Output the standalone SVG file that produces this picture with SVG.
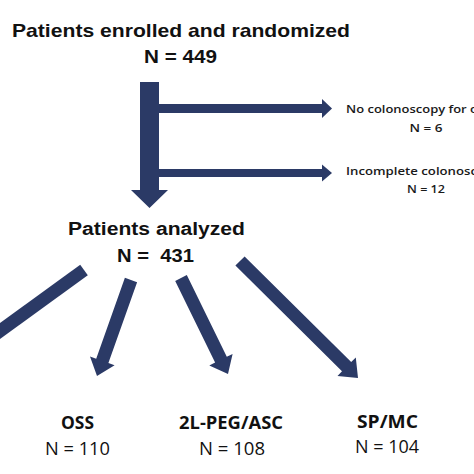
<svg xmlns="http://www.w3.org/2000/svg" width="474" height="474" viewBox="0 0 474 474">
<style>
.arr{fill:#2b3a66;}
.h{font-family:"Liberation Sans",Arial,sans-serif;font-weight:bold;fill:#111;text-anchor:middle;}
.s{font-family:"Open Sans",sans-serif;fill:#1a1a1a;font-weight:600;}
.b{font-family:"Open Sans",sans-serif;fill:#111;text-anchor:middle;}
.sm{font-weight:600;fill:#1a1a1a;}
</style>
<rect width="474" height="474" fill="#fff"/>
<g id="connectors">
<polygon class="arr" points="140,82 159,82 159,190 168,190 149.5,208 131,190 140,190"/>
<rect class="arr" x="159" y="104" width="164" height="9"/>
<polygon class="arr" points="322,99 332,108.5 322,118"/>
<rect class="arr" x="159" y="169" width="164" height="8"/>
<polygon class="arr" points="322,164.5 332,173 322,181.5"/>
<polygon class="arr" points="80.2,264.7 87.8,275.3 -17.4,351.7 -25,341.1"/>
<polygon class="arr" points="124.9,277.8 137.1,282.2 108.4,363.1 114.6,365.2 97,376 90,356.6 96.2,358.7"/>
<polygon class="arr" points="175.2,280.9 186.8,275.1 226.8,356.8 232.6,353.9 228,374 209.3,365.4 215.1,362.5"/>
<polygon class="arr" points="235.4,265.6 244.6,256.4 351.2,362.1 355.8,357.5 358,378 337.5,375.9 342,371.3"/>
</g>
<g id="enrolled">
<text class="h" x="181" y="37" font-size="18.5" textLength="338" lengthAdjust="spacingAndGlyphs">Patients enrolled and randomized</text>
<text class="h" x="180.5" y="63" font-size="18.5" textLength="73" lengthAdjust="spacingAndGlyphs">N = 449</text>
</g>
<g id="excluded1">
<text class="s" x="346" y="113" font-size="11.5" textLength="132" lengthAdjust="spacingAndGlyphs">No colonoscopy for o</text>
<text class="b sm" x="426" y="132" font-size="11.5" textLength="33" lengthAdjust="spacingAndGlyphs">N = 6</text>
</g>
<g id="excluded2">
<text class="s" x="346" y="175" font-size="11.5" textLength="131" lengthAdjust="spacingAndGlyphs">Incomplete colonosc</text>
<text class="b sm" x="426" y="193" font-size="11.5" textLength="38" lengthAdjust="spacingAndGlyphs">N = 12</text>
</g>
<g id="analyzed">
<text class="h" x="156.5" y="235" font-size="17.5" textLength="177" lengthAdjust="spacingAndGlyphs">Patients analyzed</text>
<text class="h" x="155.5" y="262" font-size="17.5" textLength="77" lengthAdjust="spacingAndGlyphs" xml:space="preserve">N =  431</text>
</g>
<g id="oss">
<text class="b" x="77.5" y="429" font-size="18" font-weight="bold" textLength="33" lengthAdjust="spacingAndGlyphs">OSS</text>
<text class="b" x="77.5" y="455" font-size="18.5" textLength="65" lengthAdjust="spacingAndGlyphs">N = 110</text>
</g>
<g id="peg">
<text class="b" x="231" y="429" font-size="18" font-weight="bold" textLength="104" lengthAdjust="spacingAndGlyphs">2L-PEG/ASC</text>
<text class="b" x="232" y="455" font-size="18.5" textLength="66" lengthAdjust="spacingAndGlyphs">N = 108</text>
</g>
<g id="spmc">
<text class="b" x="387.5" y="428" font-size="18" font-weight="bold" textLength="61" lengthAdjust="spacingAndGlyphs">SP/MC</text>
<text class="b" x="387" y="453" font-size="18.5" textLength="64" lengthAdjust="spacingAndGlyphs">N = 104</text>
</g>
</svg>
